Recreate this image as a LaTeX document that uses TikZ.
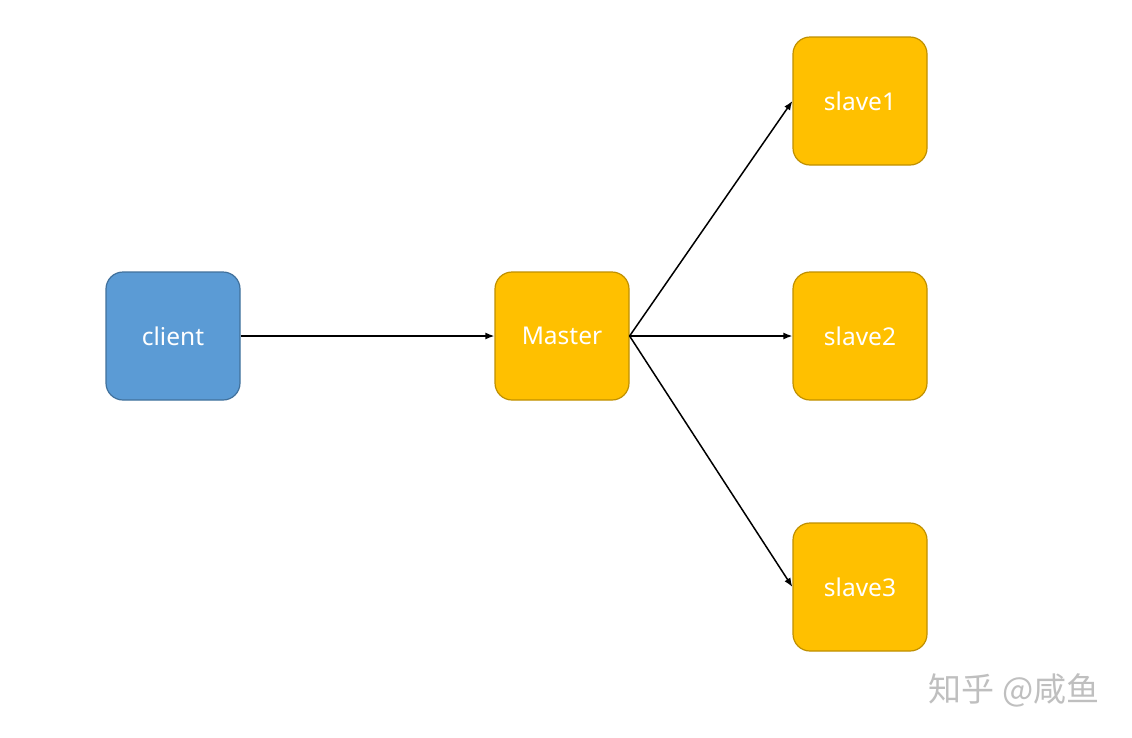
\documentclass[tikz,border=0pt]{standalone}
\usepackage{fontspec}
\setmainfont{Noto Sans}
\newfontfamily\cjk{Noto Sans CJK SC}
\usetikzlibrary{arrows.meta}
\definecolor{cblue}{HTML}{5B9BD5}
\definecolor{cblueb}{HTML}{41719C}
\definecolor{cyel}{HTML}{FFC000}
\definecolor{cyelb}{HTML}{BF9000}
\begin{document}
\begin{tikzpicture}[x=1pt,y=-1pt,
  box/.style={rectangle,rounded corners=17pt,minimum width=134pt,minimum height=128pt,
    line width=1.2pt,text=white,font=\fontsize{24.5}{28}\selectfont,inner sep=0pt},
  bluebox/.style={box,fill=cblue,draw=cblueb},
  yelbox/.style={box,fill=cyel,draw=cyelb},
  conn/.style={line width=1.5pt,-{Latex[length=9pt,width=7pt]}}]
\useasboundingbox[fill=white] (0,0) rectangle (1132,737);
\node[bluebox] (client) at (173,336) {client};
\node[yelbox] (master) at (562,336) {Master};
\node[yelbox] (s1) at (860,101) {slave1};
\node[yelbox] (s2) at (860,336) {slave2};
\node[yelbox] (s3) at (860,587) {slave3};
\draw[conn] (client.east) -- (master.west);
\draw[conn] (master.east) -- (s1.west);
\draw[conn] (master.east) -- (s2.west);
\draw[conn] (master.east) -- (s3.west);
\node[text=black!25,font=\cjk\fontsize{33}{36}\selectfont,inner sep=0pt] (wm) at (1014,690) {知乎 @咸鱼};
\end{tikzpicture}
\end{document}
